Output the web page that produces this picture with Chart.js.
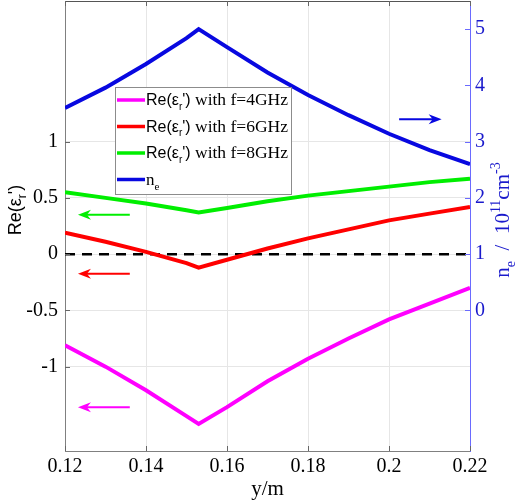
<!DOCTYPE html>
<html>
<head>
<meta charset="utf-8">
<script src="https://cdn.jsdelivr.net/npm/chart.js@4.4.1/dist/chart.umd.min.js"></script>
<style>
    html, body { margin: 0; padding: 0; background: #fff; }
    #wrap { width: 520px; height: 502px; position: relative; }
</style>
</head>
<body>
<div id="wrap"><canvas id="epsChart"></canvas></div>
<script>
// ---- data ----
const yPos    = [0.12, 0.13, 0.14, 0.15, 0.153, 0.16, 0.17, 0.18, 0.19, 0.20, 0.21, 0.22];
const eps4GHz = [-0.81, -1.00, -1.21, -1.44, -1.51, -1.36, -1.13, -0.93, -0.75, -0.58, -0.44, -0.30];
const eps6GHz = [0.19, 0.11, 0.02, -0.08, -0.12, -0.05, 0.05, 0.14, 0.22, 0.30, 0.36, 0.42];
const eps8GHz = [0.55, 0.50, 0.45, 0.39, 0.37, 0.41, 0.47, 0.52, 0.56, 0.60, 0.64, 0.67];
const neVals  = [3.60, 3.96, 4.38, 4.84, 5.00, 4.68, 4.23, 3.83, 3.47, 3.14, 2.85, 2.60];

const xTicks     = [0.12, 0.14, 0.16, 0.18, 0.2, 0.22];
const leftTicks  = [-1, -0.5, 0, 0.5, 1];
const rightTicks = [0, 1, 2, 3, 4, 5];

// arrows in data units: [axis, from x, to x, y, colour]
const arrows = [
    ["y1", 0.2025, 0.2130, 3.40, "#0808e0"],
    ["y", 0.1360, 0.1232, 0.35, "#00ee00"],
    ["y", 0.1360, 0.1232, -0.175, "#ff0000"],
    ["y", 0.1360, 0.1232, -1.36, "#ff00ff"]
];

const SERIF = '"Liberation Serif", "Times New Roman", serif';
const SANS = '"Liberation Sans", Arial, sans-serif';
const BLUE_TXT = "#1a1acc";

const pts = vals => vals.map((v, i) => ({ x: yPos[i], y: v }));

/* ========== RICH TEXT (sub/superscripts) ========== */
function drawRich(ctx, parts, x, y, align) {
    let w = 0;
    parts.forEach(p => { ctx.font = p.font; p.w = ctx.measureText(p.t).width; w += p.w; });
    let cx = align === "center" ? x - w / 2 : x;
    ctx.textBaseline = "alphabetic";
    ctx.textAlign = "left";
    parts.forEach(p => {
        ctx.font = p.font;
        ctx.fillText(p.t, cx, y + (p.dy || 0));
        cx += p.w;
    });
}

function epsLabel(rest, size) {
    return [
        { t: "Re(ε", font: size + "px " + SANS },
        { t: "r", font: Math.round(size * 0.65) + "px " + SANS, dy: size * 0.3 },
        { t: "')", font: size + "px " + SANS },
        { t: rest, font: (size + 1.5) + "px " + SERIF }
    ];
}

/* ========== DECORATION PLUGIN ========== */
const decor = {
    id: "decor",
    afterDraw(chart) {
        const { ctx, chartArea: a, scales } = chart;
        ctx.save();

        // top border of the box
        ctx.strokeStyle = "#555";
        ctx.lineWidth = 1;
        ctx.beginPath();
        ctx.moveTo(a.left, a.top + 0.5);
        ctx.lineTo(a.right, a.top + 0.5);
        ctx.stroke();

        // inward tick marks
        ctx.strokeStyle = "#666";
        ctx.beginPath();
        xTicks.forEach(v => {
            const px = Math.round(scales.x.getPixelForValue(v)) + 0.5;
            ctx.moveTo(px, a.bottom); ctx.lineTo(px, a.bottom - 5);
            ctx.moveTo(px, a.top); ctx.lineTo(px, a.top + 5);
        });
        leftTicks.forEach(v => {
            const py = Math.round(scales.y.getPixelForValue(v)) + 0.5;
            ctx.moveTo(a.left, py); ctx.lineTo(a.left + 5, py);
        });
        ctx.stroke();
        ctx.strokeStyle = "#6a6aff";
        ctx.beginPath();
        rightTicks.forEach(v => {
            const py = Math.round(scales.y1.getPixelForValue(v)) + 0.5;
            ctx.moveTo(a.right, py); ctx.lineTo(a.right - 5, py);
        });
        ctx.stroke();

        // arrows
        arrows.forEach(([ax, x0, x1, yv, col]) => {
            const px0 = scales.x.getPixelForValue(x0);
            const px1 = scales.x.getPixelForValue(x1);
            const py = scales[ax].getPixelForValue(yv);
            const dir = Math.sign(px1 - px0);
            ctx.strokeStyle = col;
            ctx.fillStyle = col;
            ctx.lineWidth = 2;
            ctx.beginPath();
            ctx.moveTo(px0, py);
            ctx.lineTo(px1 - dir * 6, py);
            ctx.stroke();
            ctx.beginPath();
            ctx.moveTo(px1, py);
            ctx.lineTo(px1 - dir * 13, py - 5);
            ctx.lineTo(px1 - dir * 9, py);
            ctx.lineTo(px1 - dir * 13, py + 5);
            ctx.closePath();
            ctx.fill();
        });

        // legend box
        const lx = 115, ly = 87, lw = 176, lh = 107;
        ctx.fillStyle = "#fff";
        ctx.fillRect(lx, ly, lw, lh);
        ctx.strokeStyle = "#8c8c8c";
        ctx.lineWidth = 1;
        ctx.strokeRect(lx + 0.5, ly + 0.5, lw, lh);
        const entries = [
            ["#ff00ff", epsLabel(" with f=4GHz", 16)],
            ["#ff0000", epsLabel(" with f=6GHz", 16)],
            ["#00ee00", epsLabel(" with f=8GHz", 16)],
            ["#0808e0", [
                { t: "n", font: "17px " + SERIF },
                { t: "e", font: "11px " + SERIF, dy: 5 }
            ]]
        ];
        entries.forEach(([col, parts], i) => {
            const ry = 100 + i * 26.5;
            ctx.strokeStyle = col;
            ctx.lineWidth = 3.5;
            ctx.beginPath();
            ctx.moveTo(lx + 2, ry);
            ctx.lineTo(lx + 30, ry);
            ctx.stroke();
            ctx.fillStyle = "#000";
            drawRich(ctx, parts, lx + 31, ry + 5, "left");
        });

        // axis titles
        ctx.fillStyle = "#000";
        drawRich(ctx, [{ t: "y/m", font: "21px " + SERIF }],
            (a.left + a.right) / 2, 495, "center");

        ctx.save();
        ctx.translate(21, 210);
        ctx.rotate(-Math.PI / 2);
        drawRich(ctx, [
            { t: "Re(ε", font: "18px " + SANS },
            { t: "r", font: "12px " + SANS, dy: 5 },
            { t: "')", font: "18px " + SANS }
        ], 0, 0, "center");
        ctx.restore();

        ctx.save();
        ctx.translate(509, 220);
        ctx.rotate(-Math.PI / 2);
        ctx.fillStyle = BLUE_TXT;
        drawRich(ctx, [
            { t: "n", font: "21px " + SERIF },
            { t: "e", font: "14px " + SERIF, dy: 6 },
            { t: "  /  10", font: "21px " + SERIF },
            { t: "11", font: "14px " + SERIF, dy: -9 },
            { t: "cm", font: "21px " + SERIF },
            { t: "-3", font: "14px " + SERIF, dy: -9 }
        ], 0, 0, "center");
        ctx.restore();

        ctx.restore();
    }
};

/* ========== CHART ========== */
const lineSet = (data, color, axis) => ({
    data, borderColor: color, backgroundColor: color, borderWidth: 4,
    pointRadius: 0, tension: 0, yAxisID: axis
});

// keep the plot box flush with the canvas top: drop the label half-height padding
const fixWidth = w => s => { s.width = w; s.paddingTop = 0; s.paddingBottom = 0; };

const ctx = document.getElementById("epsChart").getContext("2d");
new Chart(ctx, {
    type: "line",
    data: {
        datasets: [
            lineSet(pts(eps4GHz), "#ff00ff", "y"),
            lineSet(pts(eps6GHz), "#ff0000", "y"),
            lineSet(pts(eps8GHz), "#00ee00", "y"),
            lineSet(pts(neVals), "#0808e0", "y1"),
            {
                data: [{ x: xTicks[0], y: 0 }, { x: xTicks[xTicks.length - 1], y: 0 }],
                borderColor: "#000", borderWidth: 2.5, borderDash: [10, 7],
                pointRadius: 0, yAxisID: "y"
            }
        ]
    },
    options: {
        responsive: true,
        maintainAspectRatio: false,
        animation: false,
        layout: { padding: { top: 1, left: 0, right: 0, bottom: 0 } },
        plugins: { legend: { display: false }, tooltip: { enabled: false } },
        scales: {
            x: {
                type: "linear", min: 0.12, max: 0.22,
                afterBuildTicks: s => { s.ticks = xTicks.map(v => ({ value: v })); },
                afterFit: s => { s.height = 51; s.paddingLeft = 0; s.paddingRight = 0; },
                ticks: { font: { family: SERIF, size: 20 }, color: "#000", padding: 4,
                         callback: v => String(v), maxRotation: 0 },
                grid: { color: "#e6e6e6", drawTicks: false },
                border: { color: "#808080", width: 1 }
            },
            y: {
                position: "left", min: -1.75, max: 2.25,
                afterBuildTicks: s => { s.ticks = leftTicks.map(v => ({ value: v })); },
                afterFit: fixWidth(65),
                ticks: { font: { family: SERIF, size: 20 }, color: "#000", padding: 7,
                         callback: v => String(v) },
                grid: { color: "#e6e6e6", drawTicks: false },
                border: { color: "#808080", width: 1 }
            },
            y1: {
                position: "right", min: -2.5, max: 5.5,
                afterBuildTicks: s => { s.ticks = rightTicks.map(v => ({ value: v })); },
                afterFit: fixWidth(50),
                ticks: { font: { family: SERIF, size: 20 }, color: BLUE_TXT, padding: 5,
                         callback: v => String(v) },
                grid: { display: false, drawTicks: false },
                border: { color: "#6a6aff", width: 1 }
            }
        }
    },
    plugins: [decor]
});
</script>
</body>
</html>
